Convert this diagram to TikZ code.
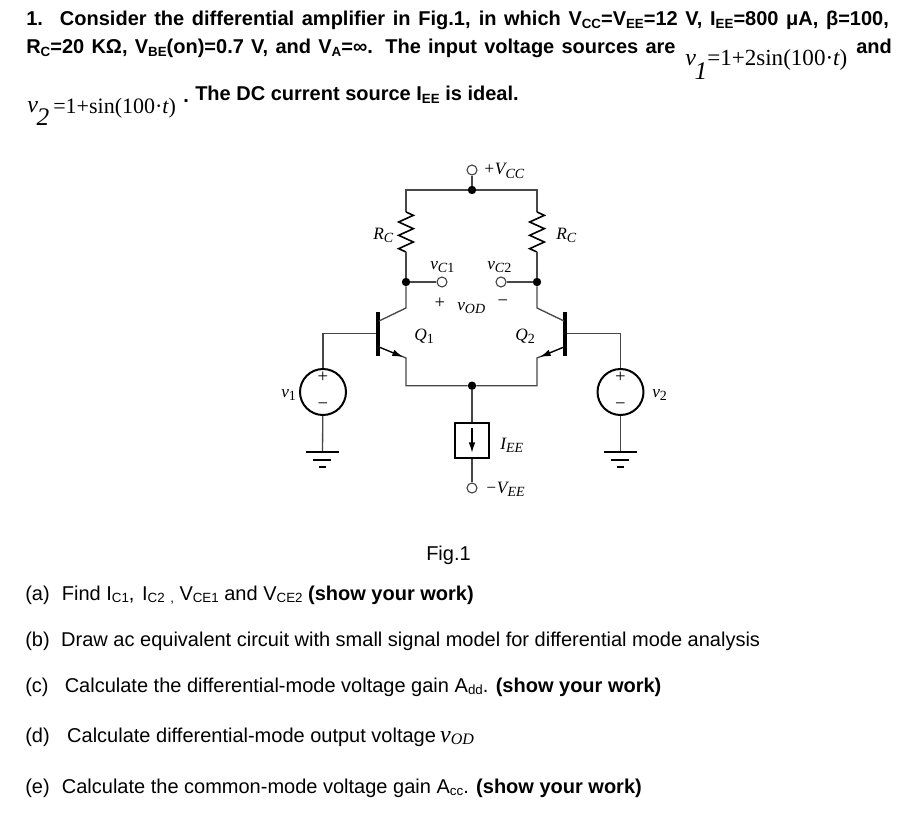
\documentclass[tikz,border=0pt]{standalone}
\usepackage{fontspec}
\setmainfont{Liberation Sans}
\newfontfamily\timesfont{Liberation Serif}
\usetikzlibrary{arrows.meta,decorations.pathmorphing}
\newcommand{\lowsub}[1]{\raisebox{-0.25ex}{\fontsize{10}{12}\selectfont #1}}
\newcommand{\cirsub}[1]{\raisebox{-0.45ex}{\fontsize{10.5}{12}\selectfont #1}}
\newcommand{\eqnvar}[4]{\makebox[#1][l]{\raisebox{#2}{\fontsize{18}{20}\selectfont\itshape v}\hspace{-1pt}\raisebox{#3}{\fontsize{19}{21}\selectfont\itshape #4}}}
\tikzset{
	wire/.style={line width=1pt,draw=black!72},
	res/.style={line width=1.2pt,decorate,decoration={zigzag,segment length=10pt,amplitude=5.5pt}},
	dotnode/.style={circle,fill=black,inner sep=0pt,minimum size=6.3pt},
	opennode/.style={circle,draw=black!75,line width=0.8pt,fill=white,inner sep=0pt,minimum size=7.5pt},
	vsource/.style={circle,draw,line width=1.5pt,inner sep=0pt,minimum size=34.5pt},
	bjtbar/.style={fill=black,inner sep=0pt,minimum width=2.5pt,minimum height=33pt},
	isource/.style={draw,line width=1.4pt,inner sep=0pt,minimum size=26pt},
	lab/.style={inner sep=0pt,font=\fontsize{13}{15}\selectfont\timesfont\itshape},
	signlab/.style={inner sep=0pt,font=\fontsize{14}{15}\selectfont\timesfont},
	textline/.style={anchor=base west,inner sep=0pt,font=\fontsize{15}{18}\selectfont},
	boldline/.style={textline,font=\fontsize{15}{18}\selectfont\bfseries},
	eqn/.style={anchor=base west,inner sep=0pt,font=\fontsize{17.3}{20}\selectfont\timesfont},
}
\begin{document}
\begin{tikzpicture}[x=0.75pt,y=-0.75pt]
	\useasboundingbox (0,0) rectangle (916,813);

	\node (line1) at (26,26)[boldline]{\makebox[647pt][s]{1.\hspace{2.5pt} Consider the differential amplifier in Fig.1, in which V\lowsub{CC}=V\lowsub{EE}=12 V, I\lowsub{EE}=800 μA, β=100,}} ;
	\node (line2) at (26,54)[boldline]{\makebox[487pt][s]{R\lowsub{C}=20 KΩ, V\lowsub{BE}(on)=0.7 V, and V\lowsub{A}=∞. The input voltage sources are}} ;
	\node (eqn1) at (685,66)[eqn]{\eqnvar{16.5pt}{0pt}{-10.5pt}{1}=1+2sin(100·{\itshape t})} ;
	\node (line2b) at (856,54)[boldline]{and} ;
	\node (eqn2) at (27,114)[eqn,font=\fontsize{16.5}{20}\selectfont\timesfont]{\eqnvar{19.5pt}{1.5pt}{-9pt}{2}=1+sin(100·{\itshape t})} ;
	\node (line3dot) at (183,103)[boldline]{.} ;
	\node (line3) at (195,101)[boldline]{The DC current source I\lowsub{EE} is ideal.} ;

	\node (vcc) at (472,170)[opennode]{} ;
	\node (topdot) at (472,190)[dotnode]{} ;
	\coordinate (rc1top) at (406,212) ;
	\coordinate (rc1bot) at (406,252) ;
	\coordinate (rc2top) at (537,212) ;
	\coordinate (rc2bot) at (537,252) ;
	\node (dotc1) at (406,282)[dotnode]{} ;
	\node (dotc2) at (537,282)[dotnode]{} ;
	\node (outc1) at (442,282)[opennode]{} ;
	\node (outc2) at (501,282)[opennode]{} ;
	\node (q1bar) at (378,333.5)[bjtbar]{} ;
	\node (q2bar) at (565,333.5)[bjtbar]{} ;
	\coordinate (col1) at (406,308) ;
	\coordinate (col2) at (537,308) ;
	\coordinate (colbar1) at (379,321) ;
	\coordinate (colbar2) at (564,321) ;
	\coordinate (embar1) at (379,347) ;
	\coordinate (embar2) at (564,347) ;
	\coordinate (emit1) at (406,358) ;
	\coordinate (emit2) at (537,358) ;
	\coordinate (tip1) at (403,357) ;
	\coordinate (tip2) at (540,357) ;
	\node (taildot) at (472,385.7)[dotnode]{} ;
	\node (vs1) at (323,392)[vsource]{} ;
	\node (vs2) at (620.5,392)[vsource]{} ;
	\node (tail) at (472,440.5)[isource]{} ;
	\node (vee) at (472,488)[opennode]{} ;
	\coordinate (arrtop) at (472,428) ;
	\coordinate (arrbot) at (472,453) ;

	\coordinate (gnd1a) at (306,452) ;
	\coordinate (gnd1b) at (339,452) ;
	\coordinate (gnd1c) at (313,460) ;
	\coordinate (gnd1d) at (331,460) ;
	\coordinate (gnd1e) at (319,467) ;
	\coordinate (gnd1f) at (326,467) ;
	\coordinate (gnd1) at (322.5,452) ;
	\coordinate (gnd2a) at (604,452) ;
	\coordinate (gnd2b) at (637,452) ;
	\coordinate (gnd2c) at (611,460) ;
	\coordinate (gnd2d) at (629,460) ;
	\coordinate (gnd2e) at (617,467) ;
	\coordinate (gnd2f) at (624,467) ;
	\coordinate (gnd2) at (620.5,452) ;

	\draw[wire] (vcc) -- (topdot) ;
	\draw[wire] (rc1top) |- (topdot) ;
	\draw[wire] (rc2top) |- (topdot) ;
	\draw[res] (rc1top) -- (rc1bot) ;
	\draw[res] (rc2top) -- (rc2bot) ;
	\draw[wire] (rc1bot) -- (dotc1) ;
	\draw[wire] (rc2bot) -- (dotc2) ;
	\draw[wire] (dotc1) -- (outc1) ;
	\draw[wire] (dotc2) -- (outc2) ;
	\draw[wire] (dotc1) -- (col1) -- (colbar1) ;
	\draw[wire] (dotc2) -- (col2) -- (colbar2) ;
	\draw[wire] (vs1) |- (q1bar) ;
	\draw[wire] (vs2) |- (q2bar) ;
	\draw[wire] (embar1) -- (emit1) |- (taildot) ;
	\draw[wire] (embar2) -- (emit2) |- (taildot) ;
	\draw[-{Latex[length=8pt,width=5pt]},line width=0.8pt] (embar1) -- (tip1) ;
	\draw[-{Latex[length=8pt,width=5pt]},line width=0.8pt] (embar2) -- (tip2) ;
	\draw[wire] (taildot) -- (tail) ;
	\draw[wire] (tail) -- (vee) ;
	\draw[-{Latex[length=8pt,width=5pt]},line width=1.2pt] (arrtop) -- (arrbot) ;

	\draw[wire] (vs1) -- (gnd1) ;
	\draw[wire] (vs2) -- (gnd2) ;
	\draw[line width=1.5pt] (gnd1a) -- (gnd1b) ;
	\draw[line width=1.5pt] (gnd1c) -- (gnd1d) ;
	\draw[line width=1.5pt] (gnd1e) -- (gnd1f) ;
	\draw[line width=1.5pt] (gnd2a) -- (gnd2b) ;
	\draw[line width=1.5pt] (gnd2c) -- (gnd2d) ;
	\draw[line width=1.5pt] (gnd2e) -- (gnd2f) ;

	\node (vs1p) at (323,377)[signlab]{+} ;
	\node (vs1m) at (323,406)[signlab]{−} ;
	\node (vs2p) at (620.5,377)[signlab]{+} ;
	\node (vs2m) at (620.5,406)[signlab]{−} ;

	\node (vcclab) at (483,175)[lab,anchor=base west]{+V\cirsub{CC}} ;
	\node (rc1lab) at (373,239)[lab,anchor=base west]{R\cirsub{C}} ;
	\node (rc2lab) at (556,239)[lab,anchor=base west]{R\cirsub{C}} ;
	\node (vc1lab) at (430,269)[lab,anchor=base west]{v\cirsub{C{\upshape 1}}} ;
	\node (vc2lab) at (487,269)[lab,anchor=base west]{v\cirsub{C{\upshape 2}}} ;
	\node (plus) at (440,303)[signlab]{+} ;
	\node (vodlab) at (457,310)[lab,anchor=base west]{v\cirsub{OD}} ;
	\node (minus) at (503,303)[signlab]{−} ;
	\node (q1lab) at (414,340)[lab,anchor=base west]{Q\cirsub{\upshape 1}} ;
	\node (q2lab) at (515,340)[lab,anchor=base west]{Q\cirsub{\upshape 2}} ;
	\node (v1lab) at (281,397)[lab,anchor=base west]{v\cirsub{\upshape 1}} ;
	\node (v2lab) at (652,397)[lab,anchor=base west]{v\cirsub{\upshape 2}} ;
	\node (ieelab) at (500,449)[lab,anchor=base west]{I\cirsub{EE}} ;
	\node (veelab) at (485,493)[lab,anchor=base west]{−V\cirsub{EE}} ;

	\node (figlab) at (426,560)[textline]{Fig.1} ;
	\node (parta) at (25,600)[textline]{(a)\hspace{5pt} Find I\lowsub{C1},\hspace{1.5pt} I\lowsub{C2} \lowsub{,} V\lowsub{CE1} and V\lowsub{CE2} {\bfseries (show your work)}} ;
	\node (partb) at (25,646)[textline]{(b)\hspace{4.5pt} Draw ac equivalent circuit with small signal model for differential mode analysis} ;
	\node (partc) at (25,692)[textline]{(c)\hspace{8pt} Calculate the differential-mode voltage gain A\lowsub{dd}. {\bfseries (show your work)}} ;
	\node (partd) at (25,742)[textline]{(d)\hspace{9pt} Calculate differential-mode output voltage\hspace{-1pt} {\timesfont\itshape\fontsize{18}{20}\selectfont v\raisebox{-0.2ex}{\fontsize{12}{14}\selectfont OD}}} ;
	\node (parte) at (25,793)[textline]{(e)\hspace{5pt} Calculate the common-mode voltage gain A\lowsub{cc}. {\bfseries (show your work)}} ;
\end{tikzpicture}
\end{document}
